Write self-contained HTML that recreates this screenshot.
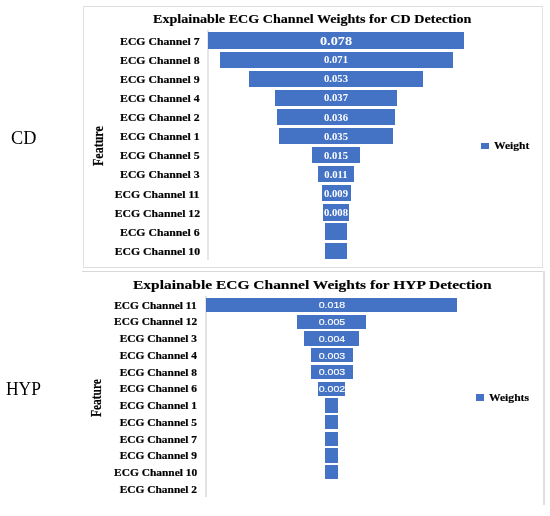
<!DOCTYPE html>
<html><head><meta charset="utf-8"><style>
*{margin:0;padding:0;box-sizing:border-box}
html,body{width:550px;height:516px;background:#fff;overflow:hidden}
body{position:relative;font-family:"Liberation Serif",serif;color:#000}
.a{position:absolute}
.bar{position:absolute;background:#4472c4}
.lbl{position:absolute;font-weight:bold;white-space:nowrap;text-align:right;line-height:1;-webkit-text-stroke:0.2px #000}
.val{position:absolute;color:#fff;white-space:nowrap;text-align:center;line-height:1}
.ttl{position:absolute;font-weight:bold;white-space:nowrap;line-height:1;-webkit-text-stroke:0.15px #000}
.ln{position:absolute;background:#d9d9d9}
</style></head><body>

<div class="ln" style="left:83px;top:5.8px;width:460px;height:1.3px;background:#dedede"></div>
<div class="ln" style="left:82.9px;top:6px;width:1.6px;height:262px;background:#e2e2e2"></div>
<div class="ln" style="left:541.6px;top:6px;width:1.6px;height:262px;background:#e2e2e2"></div>
<div class="ln" style="left:83px;top:266.7px;width:460px;height:1.3px;background:#dedede"></div>
<div class="ln" style="left:82px;top:271px;width:462px;height:1px"></div>
<div class="ln" style="left:542.8px;top:271px;width:2px;height:234px;background:#e0e0e0"></div>
<div class="ln" style="left:207px;top:30px;width:1.5px;height:230px;background:#e6e6e6"></div>
<div class="ln" style="left:205px;top:296px;width:1.5px;height:201px;background:#e3e3e3"></div>
<div class="a" style="left:10.6px;top:128.9px;font-size:18px;line-height:1;white-space:nowrap;transform-origin:0 0;transform:scaleX(1.015)">CD</div>
<div class="a" style="left:5.9px;top:379.5px;font-size:18px;line-height:1;white-space:nowrap;transform-origin:0 0;transform:scaleX(0.97)">HYP</div>
<div class="ttl" style="left:153px;top:13.4px;font-size:12.6px;transform-origin:0 0;transform:scaleX(1.12)">Explainable ECG Channel Weights for CD Detection</div>
<div class="ttl" style="left:132.8px;top:277.8px;font-size:13px;transform-origin:0 0;transform:scaleX(1.19)">Explainable ECG Channel Weights for HYP Detection</div>
<div class="ttl" style="left:89.7px;top:166.3px;font-size:12px;transform-origin:0 0;transform:rotate(-90deg) scaleY(1.25)">Feature</div>
<div class="ttl" style="left:89.1px;top:416.9px;font-size:11.45px;transform-origin:0 0;transform:rotate(-90deg) scaleY(1.28)">Feature</div>
<div class="bar" style="left:208.15px;top:32.40px;width:256.10px;height:16.3px"></div>
<div class="lbl" style="right:350.30px;top:35.70px;font-size:11px;transform-origin:100% 0;transform:scaleX(1.066)">ECG Channel 7</div>
<div class="val" style="left:306.20px;width:60px;top:35.10px;font-size:12.5px;font-weight:bold;transform:scaleX(1.14)">0.078</div>
<div class="bar" style="left:219.70px;top:51.50px;width:233.00px;height:16.3px"></div>
<div class="lbl" style="right:350.30px;top:54.80px;font-size:11px;transform-origin:100% 0;transform:scaleX(1.066)">ECG Channel 8</div>
<div class="val" style="left:306.20px;width:60px;top:55.25px;font-size:9.8px;font-weight:bold;transform:scaleX(1.085)">0.071</div>
<div class="bar" style="left:249.20px;top:70.60px;width:174.00px;height:16.3px"></div>
<div class="lbl" style="right:350.30px;top:73.90px;font-size:11px;transform-origin:100% 0;transform:scaleX(1.066)">ECG Channel 9</div>
<div class="val" style="left:306.20px;width:60px;top:74.35px;font-size:9.8px;font-weight:bold;transform:scaleX(1.085)">0.053</div>
<div class="bar" style="left:275.40px;top:89.70px;width:121.60px;height:16.3px"></div>
<div class="lbl" style="right:350.30px;top:93.00px;font-size:11px;transform-origin:100% 0;transform:scaleX(1.066)">ECG Channel 4</div>
<div class="val" style="left:306.20px;width:60px;top:93.45px;font-size:9.8px;font-weight:bold;transform:scaleX(1.085)">0.037</div>
<div class="bar" style="left:277.20px;top:108.80px;width:118.00px;height:16.3px"></div>
<div class="lbl" style="right:350.30px;top:112.10px;font-size:11px;transform-origin:100% 0;transform:scaleX(1.066)">ECG Channel 2</div>
<div class="val" style="left:306.20px;width:60px;top:112.55px;font-size:9.8px;font-weight:bold;transform:scaleX(1.085)">0.036</div>
<div class="bar" style="left:279.20px;top:127.90px;width:114.00px;height:16.3px"></div>
<div class="lbl" style="right:350.30px;top:131.20px;font-size:11px;transform-origin:100% 0;transform:scaleX(1.066)">ECG Channel 1</div>
<div class="val" style="left:306.20px;width:60px;top:131.65px;font-size:9.8px;font-weight:bold;transform:scaleX(1.085)">0.035</div>
<div class="bar" style="left:311.90px;top:147.00px;width:48.60px;height:16.3px"></div>
<div class="lbl" style="right:350.30px;top:150.30px;font-size:11px;transform-origin:100% 0;transform:scaleX(1.066)">ECG Channel 5</div>
<div class="val" style="left:306.20px;width:60px;top:150.75px;font-size:9.8px;font-weight:bold;transform:scaleX(1.085)">0.015</div>
<div class="bar" style="left:318.40px;top:166.10px;width:35.60px;height:16.3px"></div>
<div class="lbl" style="right:350.30px;top:169.40px;font-size:11px;transform-origin:100% 0;transform:scaleX(1.066)">ECG Channel 3</div>
<div class="val" style="left:306.20px;width:60px;top:169.85px;font-size:9.8px;font-weight:bold;transform:scaleX(1.085)">0.011</div>
<div class="bar" style="left:321.70px;top:185.20px;width:29.00px;height:16.3px"></div>
<div class="lbl" style="right:350.30px;top:188.50px;font-size:11px;transform-origin:100% 0;transform:scaleX(1.066)">ECG Channel 11</div>
<div class="val" style="left:306.20px;width:60px;top:188.95px;font-size:9.8px;font-weight:bold;transform:scaleX(1.085)">0.009</div>
<div class="bar" style="left:323.30px;top:204.30px;width:25.80px;height:16.3px"></div>
<div class="lbl" style="right:350.30px;top:207.60px;font-size:11px;transform-origin:100% 0;transform:scaleX(1.066)">ECG Channel 12</div>
<div class="val" style="left:306.20px;width:60px;top:208.05px;font-size:9.8px;font-weight:bold;transform:scaleX(1.085)">0.008</div>
<div class="bar" style="left:325.40px;top:223.40px;width:21.60px;height:16.3px"></div>
<div class="lbl" style="right:350.30px;top:226.70px;font-size:11px;transform-origin:100% 0;transform:scaleX(1.066)">ECG Channel 6</div>
<div class="bar" style="left:325.40px;top:242.50px;width:21.60px;height:16.3px"></div>
<div class="lbl" style="right:350.30px;top:245.80px;font-size:11px;transform-origin:100% 0;transform:scaleX(1.066)">ECG Channel 10</div>
<div class="bar" style="left:206.00px;top:297.80px;width:251.40px;height:14.3px"></div>
<div class="lbl" style="right:353.20px;top:300.60px;font-size:10.2px;transform-origin:100% 0;transform:scaleX(1.12)">ECG Channel 11</div>
<div class="val" style="left:301.70px;width:60px;top:301.40px;font-size:9.3px;font-family:'Liberation Sans',sans-serif;transform:scaleX(1.14);-webkit-text-stroke:0.15px #fff">0.018</div>
<div class="bar" style="left:297.00px;top:314.54px;width:69.40px;height:14.3px"></div>
<div class="lbl" style="right:353.20px;top:317.34px;font-size:10.2px;transform-origin:100% 0;transform:scaleX(1.12)">ECG Channel 12</div>
<div class="val" style="left:301.70px;width:60px;top:318.14px;font-size:9.3px;font-family:'Liberation Sans',sans-serif;transform:scaleX(1.14);-webkit-text-stroke:0.15px #fff">0.005</div>
<div class="bar" style="left:304.40px;top:331.28px;width:54.60px;height:14.3px"></div>
<div class="lbl" style="right:353.20px;top:334.08px;font-size:10.2px;transform-origin:100% 0;transform:scaleX(1.12)">ECG Channel 3</div>
<div class="val" style="left:301.70px;width:60px;top:334.88px;font-size:9.3px;font-family:'Liberation Sans',sans-serif;transform:scaleX(1.14);-webkit-text-stroke:0.15px #fff">0.004</div>
<div class="bar" style="left:310.85px;top:348.02px;width:41.70px;height:14.3px"></div>
<div class="lbl" style="right:353.20px;top:350.82px;font-size:10.2px;transform-origin:100% 0;transform:scaleX(1.12)">ECG Channel 4</div>
<div class="val" style="left:301.70px;width:60px;top:351.62px;font-size:9.3px;font-family:'Liberation Sans',sans-serif;transform:scaleX(1.14);-webkit-text-stroke:0.15px #fff">0.003</div>
<div class="bar" style="left:310.85px;top:364.76px;width:41.70px;height:14.3px"></div>
<div class="lbl" style="right:353.20px;top:367.56px;font-size:10.2px;transform-origin:100% 0;transform:scaleX(1.12)">ECG Channel 8</div>
<div class="val" style="left:301.70px;width:60px;top:368.36px;font-size:9.3px;font-family:'Liberation Sans',sans-serif;transform:scaleX(1.14);-webkit-text-stroke:0.15px #fff">0.003</div>
<div class="bar" style="left:318.30px;top:381.50px;width:26.80px;height:14.3px"></div>
<div class="lbl" style="right:353.20px;top:384.30px;font-size:10.2px;transform-origin:100% 0;transform:scaleX(1.12)">ECG Channel 6</div>
<div class="val" style="left:301.70px;width:60px;top:385.10px;font-size:9.3px;font-family:'Liberation Sans',sans-serif;transform:scaleX(1.14);-webkit-text-stroke:0.15px #fff">0.002</div>
<div class="bar" style="left:325.05px;top:398.24px;width:12.70px;height:14.3px"></div>
<div class="lbl" style="right:353.20px;top:401.04px;font-size:10.2px;transform-origin:100% 0;transform:scaleX(1.12)">ECG Channel 1</div>
<div class="bar" style="left:325.05px;top:414.98px;width:12.70px;height:14.3px"></div>
<div class="lbl" style="right:353.20px;top:417.78px;font-size:10.2px;transform-origin:100% 0;transform:scaleX(1.12)">ECG Channel 5</div>
<div class="bar" style="left:325.05px;top:431.72px;width:12.70px;height:14.3px"></div>
<div class="lbl" style="right:353.20px;top:434.52px;font-size:10.2px;transform-origin:100% 0;transform:scaleX(1.12)">ECG Channel 7</div>
<div class="bar" style="left:325.05px;top:448.46px;width:12.70px;height:14.3px"></div>
<div class="lbl" style="right:353.20px;top:451.26px;font-size:10.2px;transform-origin:100% 0;transform:scaleX(1.12)">ECG Channel 9</div>
<div class="bar" style="left:325.05px;top:465.20px;width:12.70px;height:14.3px"></div>
<div class="lbl" style="right:353.20px;top:468.00px;font-size:10.2px;transform-origin:100% 0;transform:scaleX(1.12)">ECG Channel 10</div>
<div class="lbl" style="right:353.20px;top:484.74px;font-size:10.2px;transform-origin:100% 0;transform:scaleX(1.12)">ECG Channel 2</div>
<div class="bar" style="left:481.2px;top:142.9px;width:8px;height:5.8px"></div>
<div class="ttl" style="left:494.1px;top:141.4px;font-size:9.8px;transform-origin:0 0;transform:scaleX(1.18)">Weight</div>
<div class="bar" style="left:476px;top:394px;width:8px;height:6.6px"></div>
<div class="ttl" style="left:489.3px;top:392.7px;font-size:10px;transform-origin:0 0;transform:scaleX(1.16)">Weights</div>
</body></html>
